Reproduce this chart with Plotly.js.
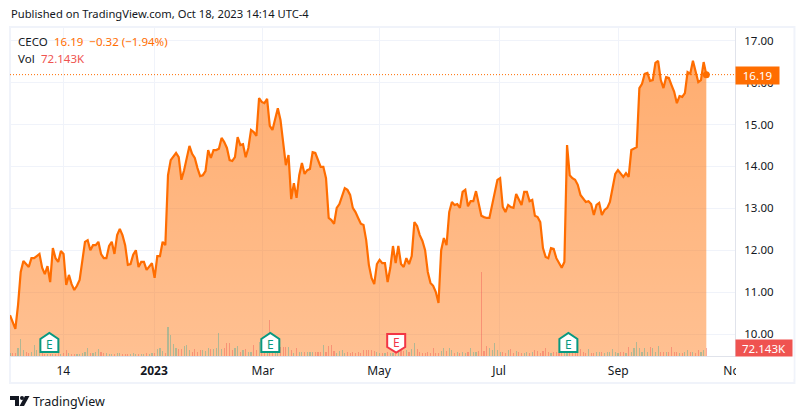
<!DOCTYPE html>
<html><head><meta charset="utf-8">
<script src="https://cdn.plot.ly/plotly-3.0.1.min.js"></script>
<style>html,body{margin:0;padding:0;background:#fff;overflow:hidden}</style>
</head><body><div id="chart" style="width:806px;height:419px"></div>
<script>
const prices = [
10.45,10.26,10.12,10.69,11.48,11.74,11.67,11.6,11.81,11.81,
11.86,11.91,11.58,11.43,11.62,11.24,12.05,11.81,11.72,11.98,
11.91,11.17,11.41,11.19,11.05,11.15,11.29,11.81,12.2,12.24,
12.0,12.12,12.12,12.2,11.91,11.81,11.81,12.1,12.2,11.91,
12.36,12.51,12.36,12.12,11.65,11.67,11.89,12.0,11.6,11.72,
11.72,11.53,11.62,11.69,11.34,11.86,11.86,12.2,12.12,13.79,
14.15,14.25,14.32,14.22,13.68,13.91,14.22,14.49,14.3,14.2,
13.96,13.77,13.79,13.89,14.39,14.2,14.39,14.39,14.42,14.68,
14.58,14.44,14.15,14.13,14.22,14.7,14.51,14.53,14.22,14.44,
14.87,14.82,14.73,15.63,15.54,15.51,15.61,14.97,14.87,15.16,
15.39,15.11,14.58,14.03,14.27,13.22,13.6,13.25,13.79,14.08,
13.82,13.91,13.94,14.34,14.32,14.15,13.99,13.99,13.72,12.77,
12.72,12.63,13.01,13.1,13.29,13.48,13.44,13.32,13.01,12.91,
12.77,12.63,12.6,12.24,11.65,11.34,11.19,11.67,11.77,11.69,
11.69,11.24,11.58,12.1,11.69,12.1,11.67,11.6,11.81,11.67,
11.86,12.67,12.58,12.36,12.22,12.0,11.48,11.22,11.15,11.0,
10.74,12.0,12.29,12.12,12.91,13.15,13.08,13.1,13.01,13.39,
13.44,13.05,13.17,13.17,13.41,13.15,12.82,12.79,12.77,12.77,
13.08,13.32,13.68,13.72,13.03,12.91,13.08,13.03,13.01,13.34,
13.2,13.08,13.39,13.39,13.17,13.2,12.82,12.79,12.67,12.05,
11.84,11.81,12.05,12.03,11.81,11.69,11.58,11.72,14.51,13.79,
13.72,13.68,13.56,13.32,13.22,13.15,13.17,13.1,12.84,13.08,
13.13,12.84,12.96,13.01,13.15,13.51,13.82,13.91,13.84,13.75,
13.84,13.75,14.39,14.42,14.46,15.87,15.97,16.21,16.23,16.04,
16.06,16.47,16.52,16.06,15.87,16.13,16.11,15.94,15.78,15.51,
15.68,15.66,15.75,16.25,16.21,16.52,16.28,16.01,16.06,16.49,16.19];
const volumes = [
30,25,27,70,150,55,40,25,35,100,
55,30,25,20,18,22,20,20,25,15,
25,55,30,18,20,20,18,25,40,70,
30,30,35,65,40,30,25,20,22,20,
30,25,22,20,18,20,25,22,18,20,
20,28,22,30,25,60,72,45,30,260,
190,110,70,60,65,90,100,50,40,60,
40,50,55,45,70,60,65,70,205,60,
75,115,115,55,70,90,40,55,60,35,
38,100,50,125,160,60,80,325,70,60,
85,80,80,80,80,55,30,70,35,40,
35,40,38,35,40,35,40,100,40,90,
95,45,30,45,50,30,35,30,35,30,
35,30,55,50,50,55,45,40,30,28,
30,35,30,28,45,55,70,45,55,40,
60,115,60,35,30,25,35,30,70,25,
30,45,70,45,70,50,30,35,30,35,
30,35,70,35,40,45,756,45,90,70,
50,115,55,40,35,30,55,60,30,45,
35,30,30,35,30,40,50,45,30,45,
70,40,30,35,35,30,30,25,45,30,
40,35,30,60,35,30,65,25,30,35,
35,40,30,35,40,65,35,30,35,40,
30,80,35,70,125,70,40,75,40,85,
70,35,90,40,40,40,40,85,40,35,
30,25,40,50,40,35,30,55,35,50,72.143];
const tickSessions = [19.9,53.8,94.4,137.8,182.6,227.1,270.5];
const tickLabels = ['14','<b>2023</b>','Mar','May','Jul','Sep','Nov'];
const priceTicks = [10,11,12,13,14,15,16,17];
const priceLabels = ['10.00','11.00','12.00','13.00','14.00','15.00','16.00','17.00'];
const earningsBeat = [14.7,97.2,208.5];
const earningsMiss = [144.2];

const sessions = prices.map((_, i) => i);
const lastP = prices[prices.length-1];
const FONT = '"Noto Sans", sans-serif';
const ORANGE = '#ff6d00', TEAL = '#089981', RED = '#f23645';
const L = 10, R = 735.5, T = 28, B = 356;
const px = v => (v-L)/(R-L), py = v => (B-v)/(B-T);

const volColors = volumes.map((_, i) => (i===0 || prices[i]>=prices[i-1]) ? 'rgba(38,166,154,0.36)' : 'rgba(239,83,80,0.42)');
const traces = [
 {type:'scatter',mode:'lines',x:sessions,y:prices,line:{color:ORANGE,width:2.2,shape:'linear'},
  fill:'tozeroy',fillgradient:{type:'vertical',start:16.5,stop:9.5,colorscale:[[0,'rgba(255,109,0,0.56)'],[1,'rgba(255,109,0,0.43)']]},
  hoverinfo:'skip',showlegend:false,cliponaxis:true},
 {type:'bar',x:sessions,y:volumes,width:0.42,yaxis:'y2',marker:{color:volColors,line:{width:0}},hoverinfo:'skip',showlegend:false},
 {type:'scatter',mode:'markers',x:[sessions[sessions.length-1]],y:[lastP],marker:{color:ORANGE,size:7},hoverinfo:'skip',showlegend:false}
];

const pap = {xref:'paper',yref:'paper',showarrow:false,xanchor:'left',yanchor:'middle'};
const annotations = [
 {...pap,x:px(9),y:py(14),text:'Published on TradingView.com, Oct 18, 2023 14:14 UTC-4',font:{family:FONT,size:11.2,color:'#131722'}},
 {...pap,x:px(16),y:py(41.5),text:'CECO',font:{family:FONT,size:11.5,color:'#131722'}},
 {...pap,x:px(52.5),y:py(41.5),text:'16.19  −0.32 (−1.94%)',font:{family:FONT,size:11.5,color:ORANGE}},
 {...pap,x:px(16),y:py(59),text:'Vol',font:{family:FONT,size:11.5,color:'#131722'}},
 {...pap,x:px(39.5),y:py(59),text:'72.143K',font:{family:FONT,size:11.5,color:'#ef5350'}},
 {xref:'paper',yref:'y',x:px(736),y:lastP-0.02,xanchor:'left',yanchor:'middle',showarrow:false,text:'16.19',width:43,height:17,borderpad:0,bgcolor:ORANGE,font:{family:FONT,size:11.5,color:'#fff'}},
 {...pap,x:px(736),y:py(348),text:'72.143K',width:56,height:16,borderpad:0,bgcolor:'#ef5350',font:{family:FONT,size:11.5,color:'#fff'}},
 {...pap,x:px(31.5),y:py(401),text:'TradingView',font:{family:FONT,size:12.5,color:'#131722'}}
];
const shapes = [
 {type:'rect',xref:'paper',yref:'paper',x0:px(10),x1:px(795),y0:py(383),y1:py(27),line:{color:'#f0f3fa',width:2},fillcolor:'rgba(0,0,0,0)',layer:'below'},
 {type:'line',xref:'paper',yref:'y',x0:0,x1:1,y0:lastP,y1:lastP,line:{color:ORANGE,width:1,dash:'1px,2px'},layer:'above'},
 {type:'rect',xref:'paper',yref:'paper',x0:px(736.5),x1:px(794),y0:py(379),y1:py(357),line:{width:0},fillcolor:'#fff',layer:'above'},
 // TradingView logo
 {type:'path',xref:'paper',yref:'paper',xsizemode:'pixel',ysizemode:'pixel',xanchor:0,yanchor:0,layer:'above',line:{width:0},fillcolor:'#131722',
  path:'M0,-40 L9,-40 L9,-50 L5,-50 L5,-44 L0,-44 Z'},
 {type:'path',xref:'paper',yref:'paper',xsizemode:'pixel',ysizemode:'pixel',xanchor:0,yanchor:0,layer:'above',line:{width:0},fillcolor:'#131722',
  path:'M15,-40 L19.5,-40 L14,-50 L9.5,-50 Z'},
 {type:'circle',xref:'paper',yref:'paper',xsizemode:'pixel',ysizemode:'pixel',xanchor:0,yanchor:0,layer:'above',line:{width:0},fillcolor:'#131722',
  x0:10,x1:14,y0:-40,y1:-44}
];
earningsBeat.forEach(s => {
 shapes.push({type:'path',xref:'x',yref:'y2',xsizemode:'pixel',ysizemode:'pixel',xanchor:s,yanchor:0,layer:'above',
   line:{color:TEAL,width:2},fillcolor:'#fff',path:'M-9,4 L9,4 L9,17 L0,23 L-9,17 Z'});
 annotations.push({xref:'x',yref:'y2',x:s,y:0,yshift:12,xanchor:'center',yanchor:'middle',showarrow:false,text:'E',font:{family:FONT,size:12,color:TEAL}});
});
earningsMiss.forEach(s => {
 shapes.push({type:'path',xref:'x',yref:'y2',xsizemode:'pixel',ysizemode:'pixel',xanchor:s,yanchor:0,layer:'above',
   line:{color:RED,width:2},fillcolor:'#fff',path:'M-9,22 L9,22 L9,9 L0,3.5 L-9,9 Z'});
 annotations.push({xref:'x',yref:'y2',x:s,y:0,yshift:14,xanchor:'center',yanchor:'middle',showarrow:false,text:'E',font:{family:FONT,size:12,color:RED}});
});

const layout = {
 width:806,height:419,autosize:false,
 margin:{l:L,r:806-R,t:T,b:419-B,pad:0},
 paper_bgcolor:'#fff',plot_bgcolor:'#fff',
 bargap:0,barmode:'overlay',
 xaxis:{range:[0,(R-L)/2.68],tickmode:'array',tickvals:tickSessions,ticktext:tickLabels,showgrid:true,gridcolor:'#f0f3fa',gridwidth:1,
  zeroline:false,showline:true,linecolor:'#e0e3eb',linewidth:1,ticks:'',tickangle:0,tickfont:{family:FONT,size:12,color:'#131722'},ticklabelstandoff:4},
 yaxis:{side:'right',range:[10+(334-B)/41.9,10+(334-T)/41.9],tickmode:'array',tickvals:priceTicks,ticktext:priceLabels,showgrid:true,gridcolor:'#f0f3fa',gridwidth:1,
  zeroline:false,showline:true,linecolor:'#e0e3eb',linewidth:1,ticks:'',tickfont:{family:FONT,size:11.5,color:'#131722'},ticklabelstandoff:6},
 yaxis2:{overlaying:'y',side:'left',range:[0,(B-T)*9],visible:false,fixedrange:true},
 shapes,annotations,showlegend:false
};
Plotly.newPlot('chart',traces,layout,{displayModeBar:false,staticPlot:true});
</script></body></html>
